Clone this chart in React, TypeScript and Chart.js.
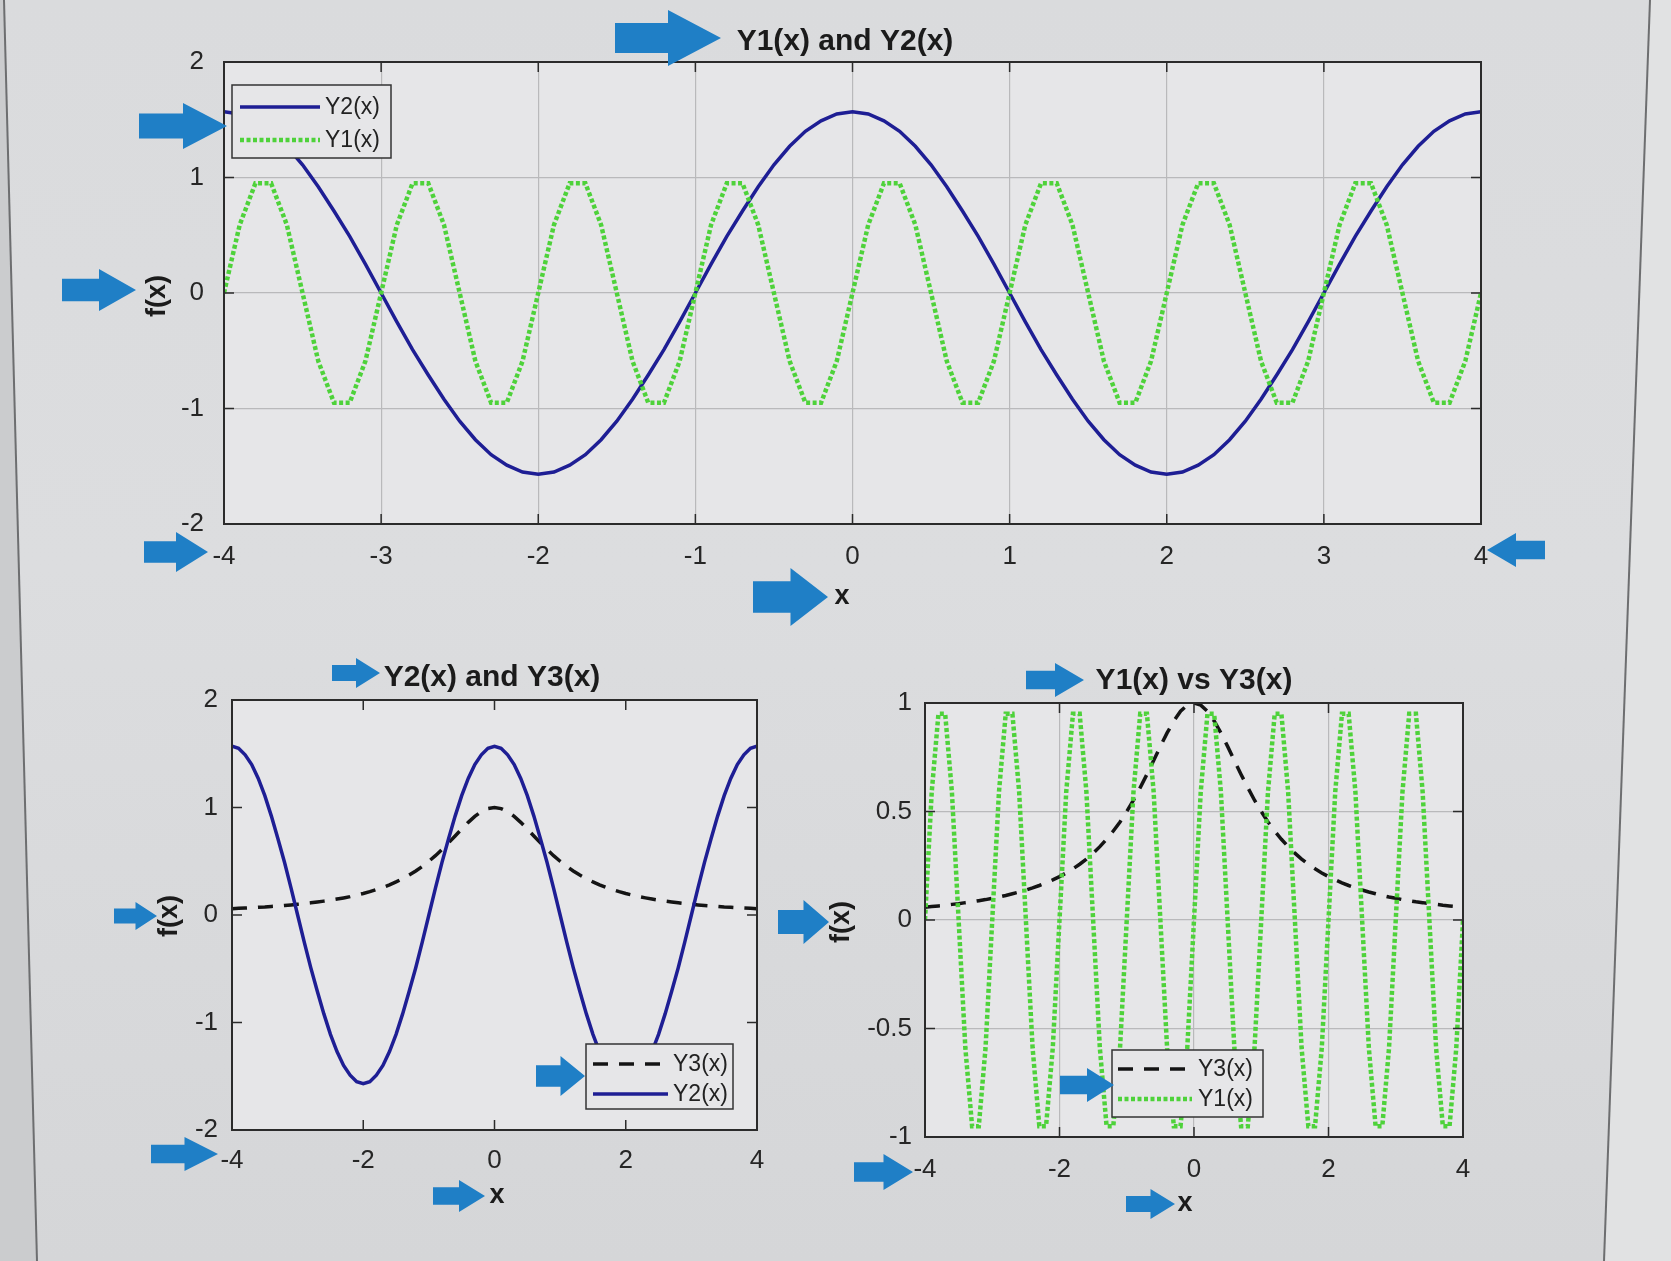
import React, { useEffect, useRef } from "react";
import { Chart, registerables } from "chart.js";
Chart.register(...registerables);

const PAGE_W = 1671;
const PAGE_H = 1261;
const FONT = "'Liberation Sans', Arial, Helvetica, sans-serif";

const X = [
  -4.0, -3.9, -3.8, -3.7, -3.6, -3.5, -3.4, -3.3, -3.2, -3.1,
  -3.0, -2.9, -2.8, -2.7, -2.6, -2.5, -2.4, -2.3, -2.2, -2.1,
  -2.0, -1.9, -1.8, -1.7, -1.6, -1.5, -1.4, -1.3, -1.2, -1.1,
  -1.0, -0.9, -0.8, -0.7, -0.6, -0.5, -0.4, -0.3, -0.2, -0.1,
  0.0, 0.1, 0.2, 0.3, 0.4, 0.5, 0.6, 0.7, 0.8, 0.9,
  1.0, 1.1, 1.2, 1.3, 1.4, 1.5, 1.6, 1.7, 1.8, 1.9,
  2.0, 2.1, 2.2, 2.3, 2.4, 2.5, 2.6, 2.7, 2.8, 2.9,
  3.0, 3.1, 3.2, 3.3, 3.4, 3.5, 3.6, 3.7, 3.8, 3.9,
  4.0,
];

const Y1 = [
  0, 0.59, 0.95, 0.95, 0.59, 0, -0.59, -0.95, -0.95, -0.59,
  0, 0.59, 0.95, 0.95, 0.59, 0, -0.59, -0.95, -0.95, -0.59,
  0, 0.59, 0.95, 0.95, 0.59, 0, -0.59, -0.95, -0.95, -0.59,
  0, 0.59, 0.95, 0.95, 0.59, 0, -0.59, -0.95, -0.95, -0.59,
  0, 0.59, 0.95, 0.95, 0.59, 0, -0.59, -0.95, -0.95, -0.59,
  0, 0.59, 0.95, 0.95, 0.59, 0, -0.59, -0.95, -0.95, -0.59,
  0, 0.59, 0.95, 0.95, 0.59, 0, -0.59, -0.95, -0.95, -0.59,
  0, 0.59, 0.95, 0.95, 0.59, 0, -0.59, -0.95, -0.95, -0.59,
  0,
];

const Y2 = [
  1.57, 1.55, 1.49, 1.40, 1.27, 1.11, 0.92, 0.71, 0.49, 0.25,
  0, -0.25, -0.49, -0.71, -0.92, -1.11, -1.27, -1.40, -1.49, -1.55,
  -1.57, -1.55, -1.49, -1.40, -1.27, -1.11, -0.92, -0.71, -0.49, -0.25,
  0, 0.25, 0.49, 0.71, 0.92, 1.11, 1.27, 1.40, 1.49, 1.55,
  1.57, 1.55, 1.49, 1.40, 1.27, 1.11, 0.92, 0.71, 0.49, 0.25,
  0, -0.25, -0.49, -0.71, -0.92, -1.11, -1.27, -1.40, -1.49, -1.55,
  -1.57, -1.55, -1.49, -1.40, -1.27, -1.11, -0.92, -0.71, -0.49, -0.25,
  0, 0.25, 0.49, 0.71, 0.92, 1.11, 1.27, 1.40, 1.49, 1.55,
  1.57,
];

const Y3 = [
  0.059, 0.062, 0.065, 0.068, 0.072, 0.075, 0.080, 0.084, 0.089, 0.094,
  0.100, 0.106, 0.113, 0.121, 0.129, 0.138, 0.148, 0.159, 0.171, 0.185,
  0.200, 0.217, 0.236, 0.257, 0.281, 0.308, 0.338, 0.372, 0.410, 0.452,
  0.500, 0.552, 0.610, 0.671, 0.735, 0.800, 0.862, 0.917, 0.962, 0.990,
  1.000, 0.990, 0.962, 0.917, 0.862, 0.800, 0.735, 0.671, 0.610, 0.552,
  0.500, 0.452, 0.410, 0.372, 0.338, 0.308, 0.281, 0.257, 0.236, 0.217,
  0.200, 0.185, 0.171, 0.159, 0.148, 0.138, 0.129, 0.121, 0.113, 0.106,
  0.100, 0.094, 0.089, 0.084, 0.080, 0.075, 0.072, 0.068, 0.065, 0.062,
  0.059,
];

const X_TICKS_TOP = [-4, -3, -2, -1, 0, 1, 2, 3, 4];
const X_TICKS_BOTTOM = [-4, -2, 0, 2, 4];
const Y_TICKS_WIDE = [-2, -1, 0, 1, 2];
const Y_TICKS_UNIT = [-1, -0.5, 0, 0.5, 1];

const TITLES = ["Y1(x) and Y2(x)", "Y2(x) and Y3(x)", "Y1(x) vs Y3(x)"];
const X_LABEL = "x";
const Y_LABEL = "f(x)";

// ---- styles ----
const NAVY = "#1e1e94";
const GREEN = "#4ed23a";
const BLACK = "#141414";
const PLOT_BG = "#e6e6e8";
const ARROW_BLUE = "#1f7fc6";

const STYLE_Y1 = { label: "Y1(x)", values: Y1, color: GREEN, width: 4.5, dash: [4, 2.5] };
const STYLE_Y2 = { label: "Y2(x)", values: Y2, color: NAVY, width: 3.5, dash: [] as number[] };
const STYLE_Y3 = { label: "Y3(x)", values: Y3, color: BLACK, width: 3.5, dash: [15, 11] };

type Series = typeof STYLE_Y1;

type Spec = {
  box: { l: number; t: number; r: number; b: number };
  xTicks: number[];
  yTicks: number[];
  yMin: number;
  yMax: number;
  grid: boolean;
  series: Series[];
  legendOrder: Series[];
  title: string;
  titlePos: [number, number];
  xlabelPos: [number, number];
  ylabelPos: [number, number];
  xPad: number;
  yPad: number;
  legend: { x: number; y: number; w: number; h: number; lineX1: number; lineX2: number; textX: number; rows: number[] };
};

const SPECS: Spec[] = [
  {
    box: { l: 224, t: 62, r: 1481, b: 524 },
    xTicks: X_TICKS_TOP,
    yTicks: Y_TICKS_WIDE,
    yMin: -2,
    yMax: 2,
    grid: true,
    series: [STYLE_Y2, STYLE_Y1],
    legendOrder: [STYLE_Y2, STYLE_Y1],
    title: TITLES[0],
    titlePos: [845, 42],
    xlabelPos: [842, 597],
    ylabelPos: [158, 296],
    xPad: 17,
    yPad: 20,
    legend: { x: 232, y: 85, w: 159, h: 73, lineX1: 240, lineX2: 320, textX: 325, rows: [107, 140] },
  },
  {
    box: { l: 232, t: 700, r: 757, b: 1130 },
    xTicks: X_TICKS_BOTTOM,
    yTicks: Y_TICKS_WIDE,
    yMin: -2,
    yMax: 2,
    grid: false,
    series: [STYLE_Y3, STYLE_Y2],
    legendOrder: [STYLE_Y3, STYLE_Y2],
    title: TITLES[1],
    titlePos: [492, 678],
    xlabelPos: [497, 1196],
    ylabelPos: [170, 916],
    xPad: 15,
    yPad: 14,
    legend: { x: 586, y: 1044, w: 147, h: 65, lineX1: 593, lineX2: 668, textX: 673, rows: [1064, 1094] },
  },
  {
    box: { l: 925, t: 703, r: 1463, b: 1137 },
    xTicks: X_TICKS_BOTTOM,
    yTicks: Y_TICKS_UNIT,
    yMin: -1,
    yMax: 1,
    grid: true,
    series: [STYLE_Y3, STYLE_Y1],
    legendOrder: [STYLE_Y3, STYLE_Y1],
    title: TITLES[2],
    titlePos: [1194, 681],
    xlabelPos: [1185, 1204],
    ylabelPos: [842, 922],
    xPad: 17,
    yPad: 13,
    legend: { x: 1112, y: 1050, w: 151, h: 67, lineX1: 1118, lineX2: 1192, textX: 1198, rows: [1069, 1099] },
  },
];

// arrows: [tailX, tipX, centerY, height]
const ARROWS: [number, number, number, number][] = [
  [615, 721, 38, 56],
  [139, 227, 126, 46],
  [62, 136, 290, 42],
  [144, 208, 552, 40],
  [1545, 1487, 550, 34],
  [753, 828, 597, 58],
  [332, 380, 673, 30],
  [114, 157, 916, 28],
  [536, 585, 1076, 40],
  [151, 218, 1154, 34],
  [433, 485, 1196, 32],
  [778, 829, 922, 44],
  [1026, 1084, 680, 34],
  [1060, 1114, 1085, 34],
  [854, 913, 1172, 36],
  [1126, 1175, 1204, 30],
];

function makePlugin(spec: Spec) {
  return {
    id: "matlabDeco",
    beforeDraw(chart: any) {
      const { ctx, chartArea: a } = chart;
      ctx.save();
      ctx.fillStyle = PLOT_BG;
      ctx.fillRect(a.left, a.top, a.right - a.left, a.bottom - a.top);
      ctx.restore();
    },
    afterDraw(chart: any) {
      const { ctx, chartArea: a, scales } = chart;
      ctx.save();
      ctx.strokeStyle = "#2b2b2b";
      ctx.lineWidth = 1.5;
      const tl = 10;
      const seg = (x1: number, y1: number, x2: number, y2: number) => {
        ctx.beginPath();
        ctx.moveTo(x1, y1);
        ctx.lineTo(x2, y2);
        ctx.stroke();
      };
      for (const v of spec.xTicks) {
        const px = scales.x.getPixelForValue(v);
        seg(px, a.bottom, px, a.bottom - tl);
        seg(px, a.top, px, a.top + tl);
      }
      for (const v of spec.yTicks) {
        const py = scales.y.getPixelForValue(v);
        seg(a.left, py, a.left + tl, py);
        seg(a.right, py, a.right - tl, py);
      }
      ctx.lineWidth = 2;
      ctx.strokeRect(a.left, a.top, a.right - a.left, a.bottom - a.top);

      ctx.fillStyle = "#1b1b1b";
      ctx.textAlign = "center";
      ctx.textBaseline = "middle";
      ctx.font = `bold 30px ${FONT}`;
      ctx.fillText(spec.title, spec.titlePos[0], spec.titlePos[1]);
      ctx.font = `bold 27px ${FONT}`;
      ctx.fillText(X_LABEL, spec.xlabelPos[0], spec.xlabelPos[1]);
      ctx.save();
      ctx.translate(spec.ylabelPos[0], spec.ylabelPos[1]);
      ctx.rotate(-Math.PI / 2);
      ctx.fillText(Y_LABEL, 0, 0);
      ctx.restore();

      const L = spec.legend;
      ctx.fillStyle = PLOT_BG;
      ctx.fillRect(L.x, L.y, L.w, L.h);
      ctx.strokeStyle = "#333";
      ctx.lineWidth = 1.5;
      ctx.strokeRect(L.x, L.y, L.w, L.h);
      ctx.font = `23px ${FONT}`;
      ctx.textAlign = "left";
      spec.legendOrder.forEach((s, i) => {
        const y = L.rows[i];
        ctx.save();
        ctx.strokeStyle = s.color;
        ctx.lineWidth = s.width;
        ctx.setLineDash(s.dash);
        seg(L.lineX1, y, L.lineX2, y);
        ctx.restore();
        ctx.fillStyle = "#222";
        ctx.fillText(s.label, L.textX, y + 1);
      });
      ctx.restore();
    },
  };
}

function buildConfig(spec: Spec): any {
  const n = spec.series.length;
  const datasets = spec.series.map((s, i) => ({
    label: s.label,
    data: X.map((x, k) => ({ x, y: s.values[k] })),
    borderColor: s.color,
    borderWidth: s.width,
    borderDash: s.dash,
    pointRadius: 0,
    tension: 0,
    fill: false,
    order: n - i,
  }));
  const tickFont = { family: FONT, size: 26 };
  const yAxisW = spec.box.l;
  const xAxisH = PAGE_H - spec.box.b;
  return {
    type: "line",
    data: { datasets },
    plugins: [makePlugin(spec)],
    options: {
      responsive: false,
      animation: false,
      events: [],
      layout: {
        padding: {
          left: 0,
          top: spec.box.t,
          right: PAGE_W - spec.box.r,
          bottom: 0,
        },
      },
      plugins: {
        legend: { display: false },
        title: { display: false },
        tooltip: { enabled: false },
      },
      scales: {
        x: {
          type: "linear",
          min: -4,
          max: 4,
          afterFit: (s: any) => {
            s.height = xAxisH;
          },
          afterBuildTicks: (s: any) => {
            s.ticks = spec.xTicks.map((v) => ({ value: v }));
          },
          ticks: {
            font: tickFont,
            color: "#262626",
            padding: spec.xPad,
            maxRotation: 0,
            minRotation: 0,
            autoSkip: false,
            callback: (v: any) => String(v),
          },
          grid: { display: spec.grid, color: "#b9b9bb", lineWidth: 1.2, drawTicks: false },
          border: { display: false },
        },
        y: {
          type: "linear",
          min: spec.yMin,
          max: spec.yMax,
          afterFit: (s: any) => {
            s.width = yAxisW;
          },
          afterBuildTicks: (s: any) => {
            s.ticks = spec.yTicks.map((v) => ({ value: v }));
          },
          ticks: {
            font: tickFont,
            color: "#262626",
            padding: spec.yPad,
            autoSkip: false,
            callback: (v: any) => String(v),
          },
          grid: { display: spec.grid, color: "#b9b9bb", lineWidth: 1.2, drawTicks: false },
          border: { display: false },
        },
      },
    },
  };
}

function MatlabChart({ spec }: { spec: Spec }) {
  const ref = useRef<HTMLCanvasElement | null>(null);
  useEffect(() => {
    if (!ref.current) return;
    const chart = new Chart(ref.current, buildConfig(spec));
    return () => chart.destroy();
  }, [spec]);
  return (
    <canvas
      ref={ref}
      width={PAGE_W}
      height={PAGE_H}
      style={{ position: "absolute", left: 0, top: 0, width: PAGE_W, height: PAGE_H }}
    />
  );
}

function arrowPoints([x1, x2, cy, h]: [number, number, number, number]) {
  const len = x2 - x1;
  const xh = x1 + len * 0.5;
  const sh = h * 0.27;
  const hh = h / 2;
  return [
    [x1, cy - sh],
    [xh, cy - sh],
    [xh, cy - hh],
    [x2, cy],
    [xh, cy + hh],
    [xh, cy + sh],
    [x1, cy + sh],
  ]
    .map((p) => p.join(","))
    .join(" ");
}

export default function App() {
  return (
    <div
      style={{
        position: "absolute",
        left: 0,
        top: 0,
        width: PAGE_W,
        height: PAGE_H,
        overflow: "hidden",
        background: "linear-gradient(180deg, #dadbdd 0%, #dcdddf 45%, #d5d6d8 100%)",
      }}
    >
      <svg width={PAGE_W} height={PAGE_H} style={{ position: "absolute", left: 0, top: 0 }}>
        <polygon points={`0,0 4,0 37,${PAGE_H} 0,${PAGE_H}`} fill="#cbccce" />
        <polygon points={`1650,0 ${PAGE_W},0 ${PAGE_W},${PAGE_H} 1604,${PAGE_H}`} fill="#e1e2e3" />
        <line x1={4} y1={0} x2={37} y2={PAGE_H} stroke="#6d6e70" strokeWidth={2} />
        <line x1={1650} y1={0} x2={1604} y2={PAGE_H} stroke="#6d6e70" strokeWidth={2} />
      </svg>
      {SPECS.map((s, i) => (
        <MatlabChart key={i} spec={s} />
      ))}
      <svg width={PAGE_W} height={PAGE_H} style={{ position: "absolute", left: 0, top: 0 }}>
        {ARROWS.map((a, i) => (
          <polygon key={i} points={arrowPoints(a)} fill={ARROW_BLUE} />
        ))}
      </svg>
    </div>
  );
}
